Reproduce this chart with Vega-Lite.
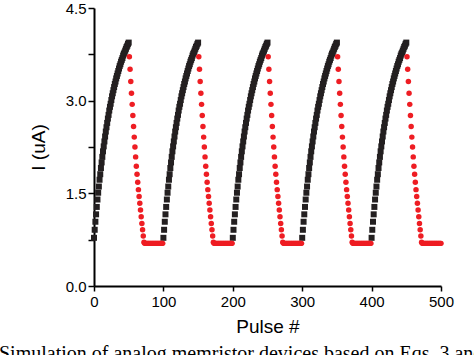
{
"$schema": "https://vega.github.io/schema/vega-lite/v6.json",
"width": 347,
"height": 278,
"autosize": {"type": "none"},
"padding": {"left": 94, "top": 8, "right": 33, "bottom": 69},
"background": "white",
"config": {"view": {"stroke": null}, "font": "Liberation Sans"},
"title": {"text": "Simulation of analog memristor devices based on Eqs. 3 and 4", "orient": "bottom", "anchor": "start", "frame": "group", "font": "Liberation Serif", "fontSize": 20, "fontWeight": "normal", "color": "black", "dx": -95, "offset": 8},
"datasets": {
"set": [
{"p":0,"i":0.78},{"p":1,"i":0.91},{"p":2,"i":1.04},{"p":3,"i":1.16},{"p":4,"i":1.28},{"p":5,"i":1.40},{"p":6,"i":1.51},{"p":7,"i":1.61},{"p":8,"i":1.72},{"p":9,"i":1.81},{"p":10,"i":1.91},{"p":11,"i":2.00},{"p":12,"i":2.09},{"p":13,"i":2.18},{"p":14,"i":2.26},{"p":15,"i":2.34},{"p":16,"i":2.42},{"p":17,"i":2.50},{"p":18,"i":2.57},{"p":19,"i":2.64},{"p":20,"i":2.71},{"p":21,"i":2.77},{"p":22,"i":2.84},{"p":23,"i":2.90},{"p":24,"i":2.95},{"p":25,"i":3.01},{"p":26,"i":3.07},{"p":27,"i":3.12},{"p":28,"i":3.17},{"p":29,"i":3.22},{"p":30,"i":3.27},{"p":31,"i":3.31},{"p":32,"i":3.36},{"p":33,"i":3.40},{"p":34,"i":3.44},{"p":35,"i":3.48},{"p":36,"i":3.52},{"p":37,"i":3.56},{"p":38,"i":3.59},{"p":39,"i":3.63},{"p":40,"i":3.66},{"p":41,"i":3.69},{"p":42,"i":3.73},{"p":43,"i":3.76},{"p":44,"i":3.78},{"p":45,"i":3.81},{"p":46,"i":3.84},{"p":47,"i":3.87},{"p":48,"i":3.89},{"p":49,"i":3.92},{"p":50,"i":3.94},
{"p":100,"i":0.78},{"p":101,"i":0.91},{"p":102,"i":1.04},{"p":103,"i":1.16},{"p":104,"i":1.28},{"p":105,"i":1.40},{"p":106,"i":1.51},{"p":107,"i":1.61},{"p":108,"i":1.72},{"p":109,"i":1.81},{"p":110,"i":1.91},{"p":111,"i":2.00},{"p":112,"i":2.09},{"p":113,"i":2.18},{"p":114,"i":2.26},{"p":115,"i":2.34},{"p":116,"i":2.42},{"p":117,"i":2.50},{"p":118,"i":2.57},{"p":119,"i":2.64},{"p":120,"i":2.71},{"p":121,"i":2.77},{"p":122,"i":2.84},{"p":123,"i":2.90},{"p":124,"i":2.95},{"p":125,"i":3.01},{"p":126,"i":3.07},{"p":127,"i":3.12},{"p":128,"i":3.17},{"p":129,"i":3.22},{"p":130,"i":3.27},{"p":131,"i":3.31},{"p":132,"i":3.36},{"p":133,"i":3.40},{"p":134,"i":3.44},{"p":135,"i":3.48},{"p":136,"i":3.52},{"p":137,"i":3.56},{"p":138,"i":3.59},{"p":139,"i":3.63},{"p":140,"i":3.66},{"p":141,"i":3.69},{"p":142,"i":3.73},{"p":143,"i":3.76},{"p":144,"i":3.78},{"p":145,"i":3.81},{"p":146,"i":3.84},{"p":147,"i":3.87},{"p":148,"i":3.89},{"p":149,"i":3.92},{"p":150,"i":3.94},
{"p":200,"i":0.78},{"p":201,"i":0.91},{"p":202,"i":1.04},{"p":203,"i":1.16},{"p":204,"i":1.28},{"p":205,"i":1.40},{"p":206,"i":1.51},{"p":207,"i":1.61},{"p":208,"i":1.72},{"p":209,"i":1.81},{"p":210,"i":1.91},{"p":211,"i":2.00},{"p":212,"i":2.09},{"p":213,"i":2.18},{"p":214,"i":2.26},{"p":215,"i":2.34},{"p":216,"i":2.42},{"p":217,"i":2.50},{"p":218,"i":2.57},{"p":219,"i":2.64},{"p":220,"i":2.71},{"p":221,"i":2.77},{"p":222,"i":2.84},{"p":223,"i":2.90},{"p":224,"i":2.95},{"p":225,"i":3.01},{"p":226,"i":3.07},{"p":227,"i":3.12},{"p":228,"i":3.17},{"p":229,"i":3.22},{"p":230,"i":3.27},{"p":231,"i":3.31},{"p":232,"i":3.36},{"p":233,"i":3.40},{"p":234,"i":3.44},{"p":235,"i":3.48},{"p":236,"i":3.52},{"p":237,"i":3.56},{"p":238,"i":3.59},{"p":239,"i":3.63},{"p":240,"i":3.66},{"p":241,"i":3.69},{"p":242,"i":3.73},{"p":243,"i":3.76},{"p":244,"i":3.78},{"p":245,"i":3.81},{"p":246,"i":3.84},{"p":247,"i":3.87},{"p":248,"i":3.89},{"p":249,"i":3.92},{"p":250,"i":3.94},
{"p":300,"i":0.78},{"p":301,"i":0.91},{"p":302,"i":1.04},{"p":303,"i":1.16},{"p":304,"i":1.28},{"p":305,"i":1.40},{"p":306,"i":1.51},{"p":307,"i":1.61},{"p":308,"i":1.72},{"p":309,"i":1.81},{"p":310,"i":1.91},{"p":311,"i":2.00},{"p":312,"i":2.09},{"p":313,"i":2.18},{"p":314,"i":2.26},{"p":315,"i":2.34},{"p":316,"i":2.42},{"p":317,"i":2.50},{"p":318,"i":2.57},{"p":319,"i":2.64},{"p":320,"i":2.71},{"p":321,"i":2.77},{"p":322,"i":2.84},{"p":323,"i":2.90},{"p":324,"i":2.95},{"p":325,"i":3.01},{"p":326,"i":3.07},{"p":327,"i":3.12},{"p":328,"i":3.17},{"p":329,"i":3.22},{"p":330,"i":3.27},{"p":331,"i":3.31},{"p":332,"i":3.36},{"p":333,"i":3.40},{"p":334,"i":3.44},{"p":335,"i":3.48},{"p":336,"i":3.52},{"p":337,"i":3.56},{"p":338,"i":3.59},{"p":339,"i":3.63},{"p":340,"i":3.66},{"p":341,"i":3.69},{"p":342,"i":3.73},{"p":343,"i":3.76},{"p":344,"i":3.78},{"p":345,"i":3.81},{"p":346,"i":3.84},{"p":347,"i":3.87},{"p":348,"i":3.89},{"p":349,"i":3.92},{"p":350,"i":3.94},
{"p":400,"i":0.78},{"p":401,"i":0.91},{"p":402,"i":1.04},{"p":403,"i":1.16},{"p":404,"i":1.28},{"p":405,"i":1.40},{"p":406,"i":1.51},{"p":407,"i":1.61},{"p":408,"i":1.72},{"p":409,"i":1.81},{"p":410,"i":1.91},{"p":411,"i":2.00},{"p":412,"i":2.09},{"p":413,"i":2.18},{"p":414,"i":2.26},{"p":415,"i":2.34},{"p":416,"i":2.42},{"p":417,"i":2.50},{"p":418,"i":2.57},{"p":419,"i":2.64},{"p":420,"i":2.71},{"p":421,"i":2.77},{"p":422,"i":2.84},{"p":423,"i":2.90},{"p":424,"i":2.95},{"p":425,"i":3.01},{"p":426,"i":3.07},{"p":427,"i":3.12},{"p":428,"i":3.17},{"p":429,"i":3.22},{"p":430,"i":3.27},{"p":431,"i":3.31},{"p":432,"i":3.36},{"p":433,"i":3.40},{"p":434,"i":3.44},{"p":435,"i":3.48},{"p":436,"i":3.52},{"p":437,"i":3.56},{"p":438,"i":3.59},{"p":439,"i":3.63},{"p":440,"i":3.66},{"p":441,"i":3.69},{"p":442,"i":3.73},{"p":443,"i":3.76},{"p":444,"i":3.78},{"p":445,"i":3.81},{"p":446,"i":3.84},{"p":447,"i":3.87},{"p":448,"i":3.89},{"p":449,"i":3.92},{"p":450,"i":3.94}
],
"reset": [
{"p":51,"i":3.71},{"p":52,"i":3.51},{"p":53,"i":3.31},{"p":54,"i":3.12},{"p":55,"i":2.94},{"p":56,"i":2.76},{"p":57,"i":2.58},{"p":58,"i":2.41},{"p":59,"i":2.25},{"p":60,"i":2.09},{"p":61,"i":1.94},{"p":62,"i":1.81},{"p":63,"i":1.68},{"p":64,"i":1.56},{"p":65,"i":1.45},{"p":66,"i":1.34},{"p":67,"i":1.23},{"p":68,"i":1.12},{"p":69,"i":1.01},{"p":70,"i":0.91},{"p":71,"i":0.81},{"p":72,"i":0.71},{"p":73,"i":0.69},{"p":74,"i":0.69},{"p":75,"i":0.69},{"p":76,"i":0.69},{"p":77,"i":0.69},{"p":78,"i":0.69},{"p":79,"i":0.69},{"p":80,"i":0.69},{"p":81,"i":0.69},{"p":82,"i":0.69},{"p":83,"i":0.69},{"p":84,"i":0.69},{"p":85,"i":0.69},{"p":86,"i":0.69},{"p":87,"i":0.69},{"p":88,"i":0.69},{"p":89,"i":0.69},{"p":90,"i":0.69},{"p":91,"i":0.69},{"p":92,"i":0.69},{"p":93,"i":0.69},{"p":94,"i":0.69},{"p":95,"i":0.69},{"p":96,"i":0.69},{"p":97,"i":0.69},{"p":98,"i":0.69},{"p":99,"i":0.69},
{"p":151,"i":3.71},{"p":152,"i":3.51},{"p":153,"i":3.31},{"p":154,"i":3.12},{"p":155,"i":2.94},{"p":156,"i":2.76},{"p":157,"i":2.58},{"p":158,"i":2.41},{"p":159,"i":2.25},{"p":160,"i":2.09},{"p":161,"i":1.94},{"p":162,"i":1.81},{"p":163,"i":1.68},{"p":164,"i":1.56},{"p":165,"i":1.45},{"p":166,"i":1.34},{"p":167,"i":1.23},{"p":168,"i":1.12},{"p":169,"i":1.01},{"p":170,"i":0.91},{"p":171,"i":0.81},{"p":172,"i":0.71},{"p":173,"i":0.69},{"p":174,"i":0.69},{"p":175,"i":0.69},{"p":176,"i":0.69},{"p":177,"i":0.69},{"p":178,"i":0.69},{"p":179,"i":0.69},{"p":180,"i":0.69},{"p":181,"i":0.69},{"p":182,"i":0.69},{"p":183,"i":0.69},{"p":184,"i":0.69},{"p":185,"i":0.69},{"p":186,"i":0.69},{"p":187,"i":0.69},{"p":188,"i":0.69},{"p":189,"i":0.69},{"p":190,"i":0.69},{"p":191,"i":0.69},{"p":192,"i":0.69},{"p":193,"i":0.69},{"p":194,"i":0.69},{"p":195,"i":0.69},{"p":196,"i":0.69},{"p":197,"i":0.69},{"p":198,"i":0.69},{"p":199,"i":0.69},
{"p":251,"i":3.71},{"p":252,"i":3.51},{"p":253,"i":3.31},{"p":254,"i":3.12},{"p":255,"i":2.94},{"p":256,"i":2.76},{"p":257,"i":2.58},{"p":258,"i":2.41},{"p":259,"i":2.25},{"p":260,"i":2.09},{"p":261,"i":1.94},{"p":262,"i":1.81},{"p":263,"i":1.68},{"p":264,"i":1.56},{"p":265,"i":1.45},{"p":266,"i":1.34},{"p":267,"i":1.23},{"p":268,"i":1.12},{"p":269,"i":1.01},{"p":270,"i":0.91},{"p":271,"i":0.81},{"p":272,"i":0.71},{"p":273,"i":0.69},{"p":274,"i":0.69},{"p":275,"i":0.69},{"p":276,"i":0.69},{"p":277,"i":0.69},{"p":278,"i":0.69},{"p":279,"i":0.69},{"p":280,"i":0.69},{"p":281,"i":0.69},{"p":282,"i":0.69},{"p":283,"i":0.69},{"p":284,"i":0.69},{"p":285,"i":0.69},{"p":286,"i":0.69},{"p":287,"i":0.69},{"p":288,"i":0.69},{"p":289,"i":0.69},{"p":290,"i":0.69},{"p":291,"i":0.69},{"p":292,"i":0.69},{"p":293,"i":0.69},{"p":294,"i":0.69},{"p":295,"i":0.69},{"p":296,"i":0.69},{"p":297,"i":0.69},{"p":298,"i":0.69},{"p":299,"i":0.69},
{"p":351,"i":3.71},{"p":352,"i":3.51},{"p":353,"i":3.31},{"p":354,"i":3.12},{"p":355,"i":2.94},{"p":356,"i":2.76},{"p":357,"i":2.58},{"p":358,"i":2.41},{"p":359,"i":2.25},{"p":360,"i":2.09},{"p":361,"i":1.94},{"p":362,"i":1.81},{"p":363,"i":1.68},{"p":364,"i":1.56},{"p":365,"i":1.45},{"p":366,"i":1.34},{"p":367,"i":1.23},{"p":368,"i":1.12},{"p":369,"i":1.01},{"p":370,"i":0.91},{"p":371,"i":0.81},{"p":372,"i":0.71},{"p":373,"i":0.69},{"p":374,"i":0.69},{"p":375,"i":0.69},{"p":376,"i":0.69},{"p":377,"i":0.69},{"p":378,"i":0.69},{"p":379,"i":0.69},{"p":380,"i":0.69},{"p":381,"i":0.69},{"p":382,"i":0.69},{"p":383,"i":0.69},{"p":384,"i":0.69},{"p":385,"i":0.69},{"p":386,"i":0.69},{"p":387,"i":0.69},{"p":388,"i":0.69},{"p":389,"i":0.69},{"p":390,"i":0.69},{"p":391,"i":0.69},{"p":392,"i":0.69},{"p":393,"i":0.69},{"p":394,"i":0.69},{"p":395,"i":0.69},{"p":396,"i":0.69},{"p":397,"i":0.69},{"p":398,"i":0.69},{"p":399,"i":0.69},
{"p":451,"i":3.71},{"p":452,"i":3.51},{"p":453,"i":3.31},{"p":454,"i":3.12},{"p":455,"i":2.94},{"p":456,"i":2.76},{"p":457,"i":2.58},{"p":458,"i":2.41},{"p":459,"i":2.25},{"p":460,"i":2.09},{"p":461,"i":1.94},{"p":462,"i":1.81},{"p":463,"i":1.68},{"p":464,"i":1.56},{"p":465,"i":1.45},{"p":466,"i":1.34},{"p":467,"i":1.23},{"p":468,"i":1.12},{"p":469,"i":1.01},{"p":470,"i":0.91},{"p":471,"i":0.81},{"p":472,"i":0.71},{"p":473,"i":0.69},{"p":474,"i":0.69},{"p":475,"i":0.69},{"p":476,"i":0.69},{"p":477,"i":0.69},{"p":478,"i":0.69},{"p":479,"i":0.69},{"p":480,"i":0.69},{"p":481,"i":0.69},{"p":482,"i":0.69},{"p":483,"i":0.69},{"p":484,"i":0.69},{"p":485,"i":0.69},{"p":486,"i":0.69},{"p":487,"i":0.69},{"p":488,"i":0.69},{"p":489,"i":0.69},{"p":490,"i":0.69},{"p":491,"i":0.69},{"p":492,"i":0.69},{"p":493,"i":0.69},{"p":494,"i":0.69},{"p":495,"i":0.69},{"p":496,"i":0.69},{"p":497,"i":0.69},{"p":498,"i":0.69},{"p":499,"i":0.69},{"p":500,"i":0.69}
]
},
"layer": [
{
"data": {"name": "set"},
"mark": {"type": "square", "size": 36, "filled": true, "color": "#231f20", "opacity": 1},
"encoding": {
"x": {"field": "p", "type": "quantitative", "scale": {"domain": [0, 500], "nice": false, "zero": true},
"axis": {"title": "Pulse #", "values": [0,50,100,150,200,250,300,350,400,450,500], "labelExpr": "datum.value % 100 == 0 ? datum.label : ''", "grid": false, "domainColor": "black", "domainWidth": 2, "tickColor": "black", "tickWidth": 1.5, "tickSize": 5, "labelFontSize": 15, "labelColor": "black", "labelPadding": 3, "labelFlush": false, "labelOverlap": false, "titleFontSize": 19, "titleFontWeight": "normal", "titleColor": "black", "titlePadding": 8}},
"y": {"field": "i", "type": "quantitative", "scale": {"domain": [0, 4.5], "nice": false},
"axis": {"title": "I (uA)", "values": [0,0.75,1.5,2.25,3,3.75,4.5], "labelExpr": "datum.value % 1.5 == 0 ? format(datum.value, '.1f') : ''", "grid": false, "domainColor": "black", "domainWidth": 2, "tickColor": "black", "tickWidth": 1.5, "tickSize": 6, "labelFontSize": 15, "labelColor": "black", "labelPadding": 2, "labelFlush": false, "labelOverlap": false, "titleFontSize": 19, "titleFontWeight": "normal", "titleColor": "black", "titlePadding": 17}}
}
},
{
"data": {"name": "reset"},
"mark": {"type": "circle", "size": 30, "color": "#ee1d23", "opacity": 1},
"encoding": {
"x": {"field": "p", "type": "quantitative"},
"y": {"field": "i", "type": "quantitative"}
}
}
]
}
